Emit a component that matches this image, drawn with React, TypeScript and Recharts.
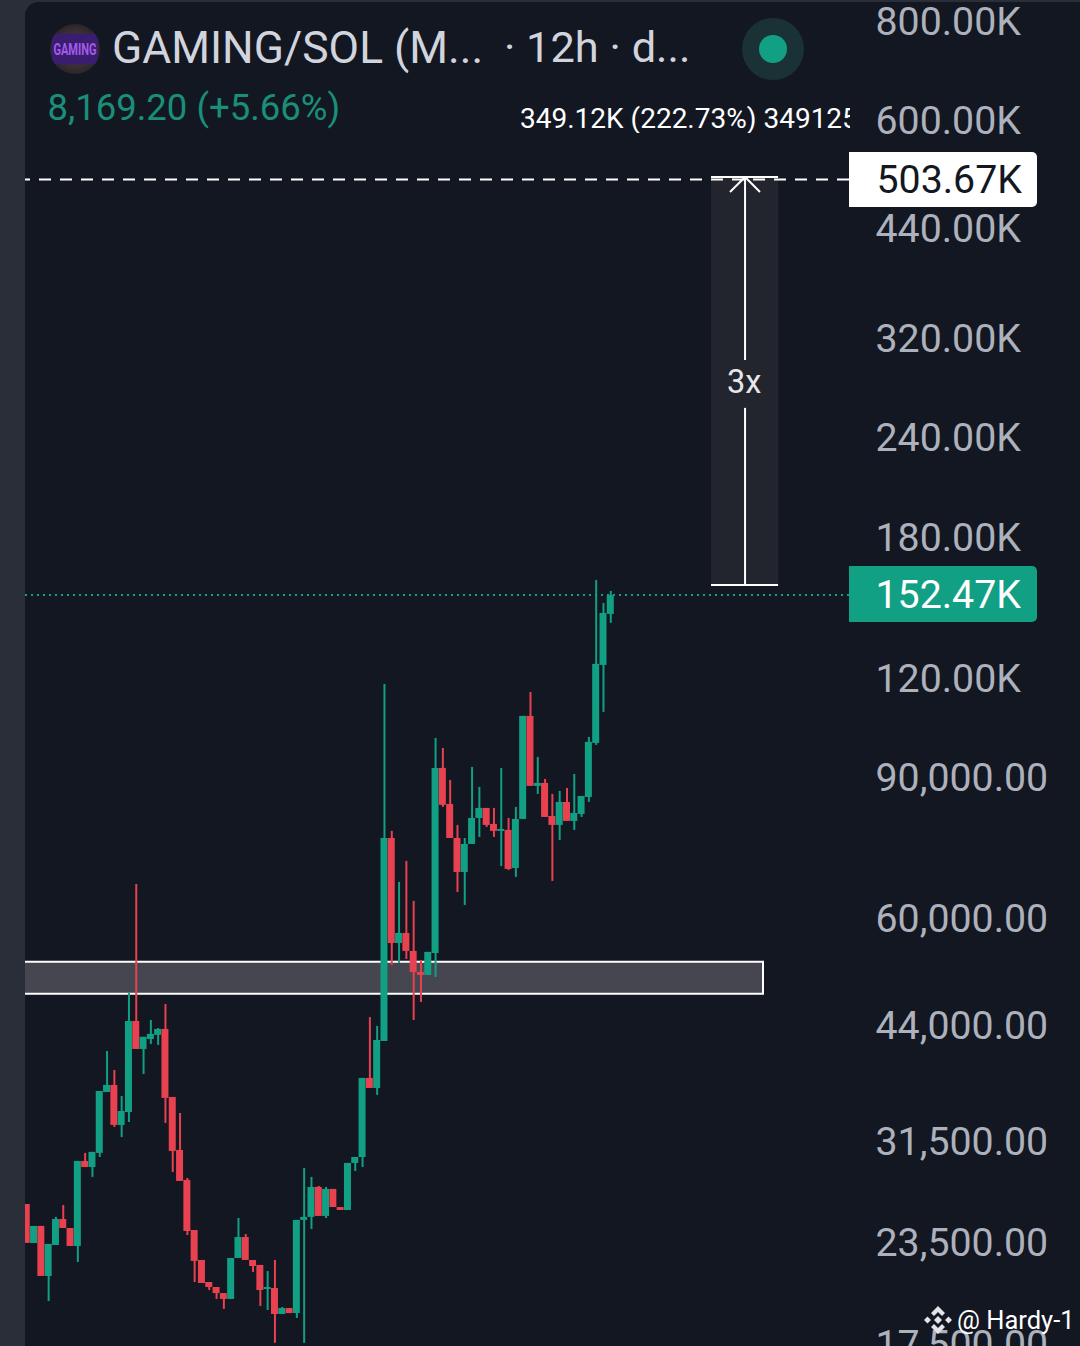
import { Bar, Cell, ComposedChart, ReferenceArea, ReferenceLine, XAxis, YAxis } from 'recharts'

const GREEN = '#12a085'
const RED = '#e8414f'
const BG = '#131722'

const opens = [
  26280, 23490, 24670, 21350, 23350, 25170, 24520, 23280, 29760, 29240, 30460, 36320, 37060, 33020, 34280, 44580,
  41120, 42320, 42830, 43570, 35800, 30720, 28170, 24380, 22360, 20980, 20680, 20320, 19980, 22490, 23890, 22360,
  22040, 20560, 20620, 19130, 19460, 19180, 25100, 25320, 27610, 25390, 27450, 26050, 25830, 29590, 30100, 37820,
  36740, 42080, 75620, 55840, 57480, 54570, 51360, 50920, 54260, 92570, 83430, 75620, 68550, 74330, 80120, 82470,
  78750, 77180, 77400, 69350, 79890, 107570, 87880, 88650, 80580, 78520, 83910, 79430, 81060, 85130, 99500, 124630,
  144400,
]
const highs = [
  26280, 24670, 24670, 23420, 25320, 26210, 24520, 29760, 30460, 30550, 36420, 40880, 38700, 35900, 48340, 66220,
  42590, 44710, 43690, 46820, 35800, 34180, 28330, 24380, 22360, 20980, 20680, 20320, 22490, 25240, 24100, 22360,
  22040, 21660, 22360, 19520, 19460, 25100, 29160, 28420, 27690, 27610, 27450, 26050, 29590, 30100, 37820, 45090,
  43940, 117980, 77180, 66600, 70770, 63050, 53170, 54420, 100950, 98070, 89420, 78520, 75620, 92840, 87620, 82470,
  82470, 92570, 80120, 82710, 107570, 115280, 95550, 89680, 85880, 86620, 87370, 90980, 85370, 101240, 159300, 149060,
  154320,
]
const lows = [
  23490, 23490, 21350, 19860, 23350, 24520, 23280, 22230, 29240, 28420, 30100, 36320, 32830, 31890, 33310, 41120,
  38260, 41720, 41600, 33210, 28830, 28090, 24030, 20980, 20920, 20500, 19980, 19410, 19980, 22490, 22360, 21600,
  19580, 19350, 17600, 19130, 19180, 18910, 17600, 24450, 25390, 25240, 26050, 25830, 25830, 28910, 29240, 36740,
  36010, 42080, 52410, 52710, 53320, 44710, 47100, 50920, 50620, 82710, 75620, 64700, 62320, 74330, 75840, 78070,
  75840, 69720, 68950, 67570, 79890, 87880, 85880, 80350, 66800, 75190, 79430, 77400, 80350, 83910, 98920, 108820,
  140710,
]
const closes = [
  23490, 24670, 21350, 23420, 25170, 24520, 23280, 29760, 29240, 30550, 36420, 37060, 33020, 34380, 44580, 41120,
  42590, 42950, 43565, 35700, 30630, 28090, 24310, 22300, 20920, 20680, 20320, 19980, 22490, 23890, 22360, 21980,
  20500, 20680, 19130, 19460, 19180, 25100, 25320, 27610, 25390, 27450, 26050, 25830, 29590, 30100, 37820, 36740,
  42200, 75620, 55840, 57480, 54570, 51360, 50920, 54420, 92570, 83190, 75620, 68550, 74330, 80120, 82470, 78520,
  77180, 77620, 69150, 79890, 107570, 87880, 88650, 80350, 78520, 83910, 79430, 81290, 85370, 99800, 125000, 144820,
  152470,
]

const priceTicks = [800000, 600000, 440000, 320000, 240000, 180000, 120000, 90000, 60000, 44000, 31500, 23500, 17500]

const candles = opens.map((open, i) => ({
  index: i,
  wick: [lows[i], highs[i]],
  body: [Math.min(open, closes[i]), Math.max(open, closes[i])],
  up: closes[i] >= open,
}))

const xDomain: [number, number] = [-3.616, 112.68]
const yDomain: [number, number] = [17441, 850000]

function formatPrice(v: number) {
  if (v >= 100000) return `${(v / 1000).toFixed(2)}K`
  return v.toLocaleString('en-US', { minimumFractionDigits: 2, maximumFractionDigits: 2 })
}

function PriceTick({ y, payload }: any) {
  return (
    <text x={875.5} y={y} dy={13.5} fontSize={39.3} fill="#adb1bc" textAnchor="start" fontFamily="Roboto">
      {formatPrice(payload.value)}
    </text>
  )
}

function Label({ left, top, size, color, children, style }: any) {
  return (
    <div
      style={{
        position: 'absolute',
        left,
        top,
        fontSize: size,
        color,
        lineHeight: 1,
        whiteSpace: 'nowrap',
        fontFamily: 'Roboto',
        ...style,
      }}
    >
      {children}
    </div>
  )
}

const whiteLine = { stroke: '#ffffff', strokeWidth: 2 }

export default function App() {
  return (
    <div style={{ position: 'fixed', left: 0, top: 0, width: 1080, height: 1346, overflow: 'hidden', background: BG }}>
      <ComposedChart
        width={1080}
        height={1346}
        data={candles}
        margin={{ top: 0, right: 0, bottom: 0, left: 0 }}
      >
        <XAxis xAxisId="body" dataKey="index" type="number" domain={xDomain} allowDataOverflow hide />
        <XAxis xAxisId="wick" dataKey="index" type="number" domain={xDomain} allowDataOverflow hide />
        <YAxis
          orientation="right"
          width={231}
          scale="log"
          type="number"
          domain={yDomain}
          allowDataOverflow
          ticks={priceTicks}
          interval={0}
          axisLine={false}
          tickLine={false}
          tick={<PriceTick />}
        />

        {/* support box, runs off the left edge */}
        <ReferenceArea
          xAxisId="body"
          x1={-3.616}
          x2={100.9}
          y1={48210}
          y2={52880}
          fill="#45464f"
          fillOpacity={1}
          stroke="#ffffff"
          strokeWidth={2}
        />

        {/* measure tool */}
        <ReferenceArea xAxisId="body" x1={93.78} x2={103} y1={157020} y2={509900} fill="#22252e" fillOpacity={1} />
        <ReferenceLine xAxisId="body" segment={[{ x: 93.78, y: 157020 }, { x: 102.96, y: 157020 }]} {...whiteLine} />
        <ReferenceLine xAxisId="body" segment={[{ x: 93.78, y: 509900 }, { x: 102.96, y: 509900 }]} {...whiteLine} />
        <ReferenceLine xAxisId="body" segment={[{ x: 98.44, y: 157020 }, { x: 98.44, y: 261800 }]} {...whiteLine} />
        <ReferenceLine xAxisId="body" segment={[{ x: 98.44, y: 300600 }, { x: 98.44, y: 509900 }]} {...whiteLine} />
        <ReferenceLine xAxisId="body" segment={[{ x: 96.38, y: 488300 }, { x: 98.44, y: 509900 }]} {...whiteLine} />
        <ReferenceLine xAxisId="body" segment={[{ x: 100.49, y: 488300 }, { x: 98.44, y: 509900 }]} {...whiteLine} />

        {/* price levels */}
        <ReferenceLine xAxisId="body" y={506200} stroke="#ffffff" strokeWidth={2} strokeDasharray="12 9" />
        <ReferenceLine xAxisId="body" y={152470} stroke={GREEN} strokeWidth={2} strokeDasharray="2 4" />

        <Bar xAxisId="wick" dataKey="wick" barSize={2} isAnimationActive={false}>
          {candles.map((c) => (
            <Cell key={c.index} fill={c.up ? GREEN : RED} />
          ))}
        </Bar>
        <Bar xAxisId="body" dataKey="body" barSize={7} isAnimationActive={false}>
          {candles.map((c) => (
            <Cell key={c.index} fill={c.up ? GREEN : RED} />
          ))}
        </Bar>
      </ComposedChart>

      {/* panel frame: left strip and rounded corner */}
      <div
        style={{
          position: 'absolute',
          left: 25,
          top: 2,
          width: 1100,
          height: 1400,
          borderTopLeftRadius: 14,
          boxShadow: '0 0 0 30px #2a2e39',
          pointerEvents: 'none',
        }}
      />

      {/* header */}
      <div
        style={{
          position: 'absolute',
          left: 50,
          top: 24,
          width: 50,
          height: 50,
          borderRadius: 25,
          overflow: 'hidden',
          background: 'radial-gradient(circle, #5a4a50 0%, #2c2628 70%, #463c40 100%)',
        }}
      >
        <div
          style={{
            position: 'absolute',
            left: 0,
            top: 14,
            width: 50,
            height: 22,
            background: '#3a1d6e',
            color: '#a15be8',
            fontFamily: 'Roboto',
            fontSize: 12,
            fontWeight: 700,
            lineHeight: '22px',
            textAlign: 'center',
            transform: 'scale(0.92, 1.4)',
          }}
        >
          GAMING
        </div>
      </div>
      <Label left={112} top={26} size={44.4} color="#d1d4dc">
        GAMING/SOL (M...
      </Label>
      <Label left={504} top={26} size={43.4} color="#d1d4dc">
        · 12h · d...
      </Label>
      <div style={{ position: 'absolute', left: 742, top: 18, width: 62, height: 62, borderRadius: 31, background: '#1a3236' }} />
      <div style={{ position: 'absolute', left: 759, top: 35, width: 28, height: 28, borderRadius: 14, background: GREEN }} />
      <Label left={47.5} top={90} size={36.5} color="#1a8f78">
        8,169.20 (+5.66%)
      </Label>
      <Label left={520} top={105} size={28} color="#ffffff" style={{ width: 330, overflow: 'hidden' }}>
        349.12K (222.73%) 349125
      </Label>
      <Label left={727} top={366} size={32.5} color="#e6e7ea">
        3x
      </Label>

      {/* price tags */}
      <div
        style={{
          position: 'absolute',
          left: 849,
          top: 152,
          width: 188,
          height: 55,
          background: '#ffffff',
          borderRadius: '0 5px 5px 0',
        }}
      />
      <Label left={876.5} top={160.5} size={39.3} color="#131722">
        503.67K
      </Label>
      <div
        style={{
          position: 'absolute',
          left: 849,
          top: 566,
          width: 188,
          height: 56,
          background: GREEN,
          borderRadius: '0 5px 5px 0',
        }}
      />
      <Label left={875.5} top={575.5} size={39.3} color="#ffffff">
        152.47K
      </Label>

      {/* watermark */}
      <svg style={{ position: 'absolute', left: 924, top: 1306 }} width={28} height={28} viewBox="0 0 28 28">
        <g fill="#e4e4e8">
          <path d="M14 0l7 7-3 3-4-4-4 4-3-3z" />
          <path d="M14 28l7-7-3-3-4 4-4-4-3 3z" />
          <path d="M0 14l3.5-3.5 3.5 3.5-3.5 3.5z" />
          <path d="M21 14l3.5-3.5 3.5 3.5-3.5 3.5z" />
          <path d="M14 10l4 4-4 4-4-4z" />
        </g>
      </svg>
      <Label left={957} top={1308} size={25.5} color="#ffffff">
        @ Hardy-1
      </Label>
    </div>
  )
}
